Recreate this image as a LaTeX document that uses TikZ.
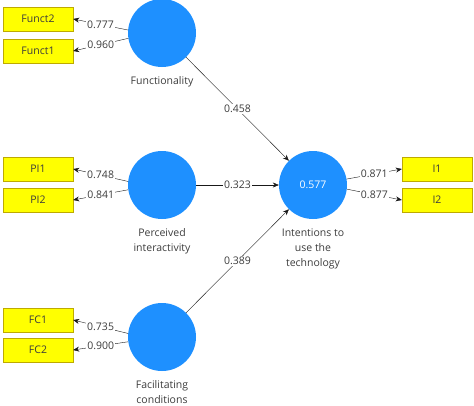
\documentclass[tikz,border=0pt]{standalone}
\usepackage{fontspec}
\setmainfont{Open Sans}
\usepackage{xcolor}
\usepackage{tikz}
\usetikzlibrary{arrows.meta, positioning}
\definecolor{latentblue}{RGB}{30,144,255}
\definecolor{itemyellow}{RGB}{255,255,0}
\definecolor{itemborder}{RGB}{190,170,0}
\definecolor{labelgray}{RGB}{60,60,60}
\newcommand{\pathfont}{\fontsize{10.5}{15}\selectfont}
\tikzset{
    latent/.style={circle, minimum size=68pt, inner sep=0pt, draw=none, fill=latentblue,
                   text=white, font=\pathfont},
    item/.style={rectangle, minimum width=70pt, minimum height=24pt, draw=itemborder,
                 fill=itemyellow, text=labelgray, font=\pathfont},
    caption/.style={align=center, text=labelgray, font=\pathfont, inner sep=1pt},
    load/.style={-{Stealth[length=6pt,width=5pt]}, black!90, thin},
    coef/.style={midway, fill=white, inner sep=1pt, text=labelgray, font=\pathfont}
}

\begin{document}
\begin{tikzpicture}[x=1pt, y=-1pt]
    \useasboundingbox (0,0) rectangle (474,405);

    % Latent variables
    \node[latent] (fun) at (162,33) {};
    \node[latent] (pi) at (162,185) {};
    \node[latent] (fc) at (162,337) {};
    \node[latent] (int) at (313,185) {0.577};

    % Captions
    \node[caption, below=8pt of fun] (funlbl) {Functionality};
    \node[caption, below=8pt of pi] (pilbl) {Perceived\\interactivity};
    \node[caption, below=8pt of fc] (fclbl) {Facilitating\\conditions};
    \node[caption, below=8pt of int] (intlbl) {Intentions to\\use the\\technology};

    % Indicators
    \node[item] (funct2) at (38,19) {Funct2};
    \node[item] (funct1) at (38,51) {Funct1};
    \node[item] (pi1) at (38,169) {PI1};
    \node[item] (pi2) at (38,200) {PI2};
    \node[item] (fc1) at (38,320) {FC1};
    \node[item] (fc2) at (38,350) {FC2};
    \node[item] (i1) at (437,169) {I1};
    \node[item] (i2) at (437,200) {I2};

    % Outer loadings
    \draw[load] (fun.175) -- (funct2.east) node[coef] {0.777};
    \draw[load] (fun.189) -- (funct1.east) node[coef] {0.960};
    \draw[load] (pi.174) -- (pi1.east) node[coef] {0.748};
    \draw[load] (pi.188) -- (pi2.east) node[coef] {0.841};
    \draw[load] (fc.174) -- (fc1.east) node[coef] {0.735};
    \draw[load] (fc.188) -- (fc2.east) node[coef] {0.900};
    \draw[load] (int.10) -- (i1.west) node[coef] {0.871};
    \draw[load] (int.-7) -- (i2.west) node[coef] {0.877};

    % Path coefficients
    \draw[load] (fun) -- (int) node[coef] {0.458};
    \draw[load] (pi) -- (int) node[coef] {0.323};
    \draw[load] (fc) -- (int) node[coef] {0.389};
\end{tikzpicture}
\end{document}
